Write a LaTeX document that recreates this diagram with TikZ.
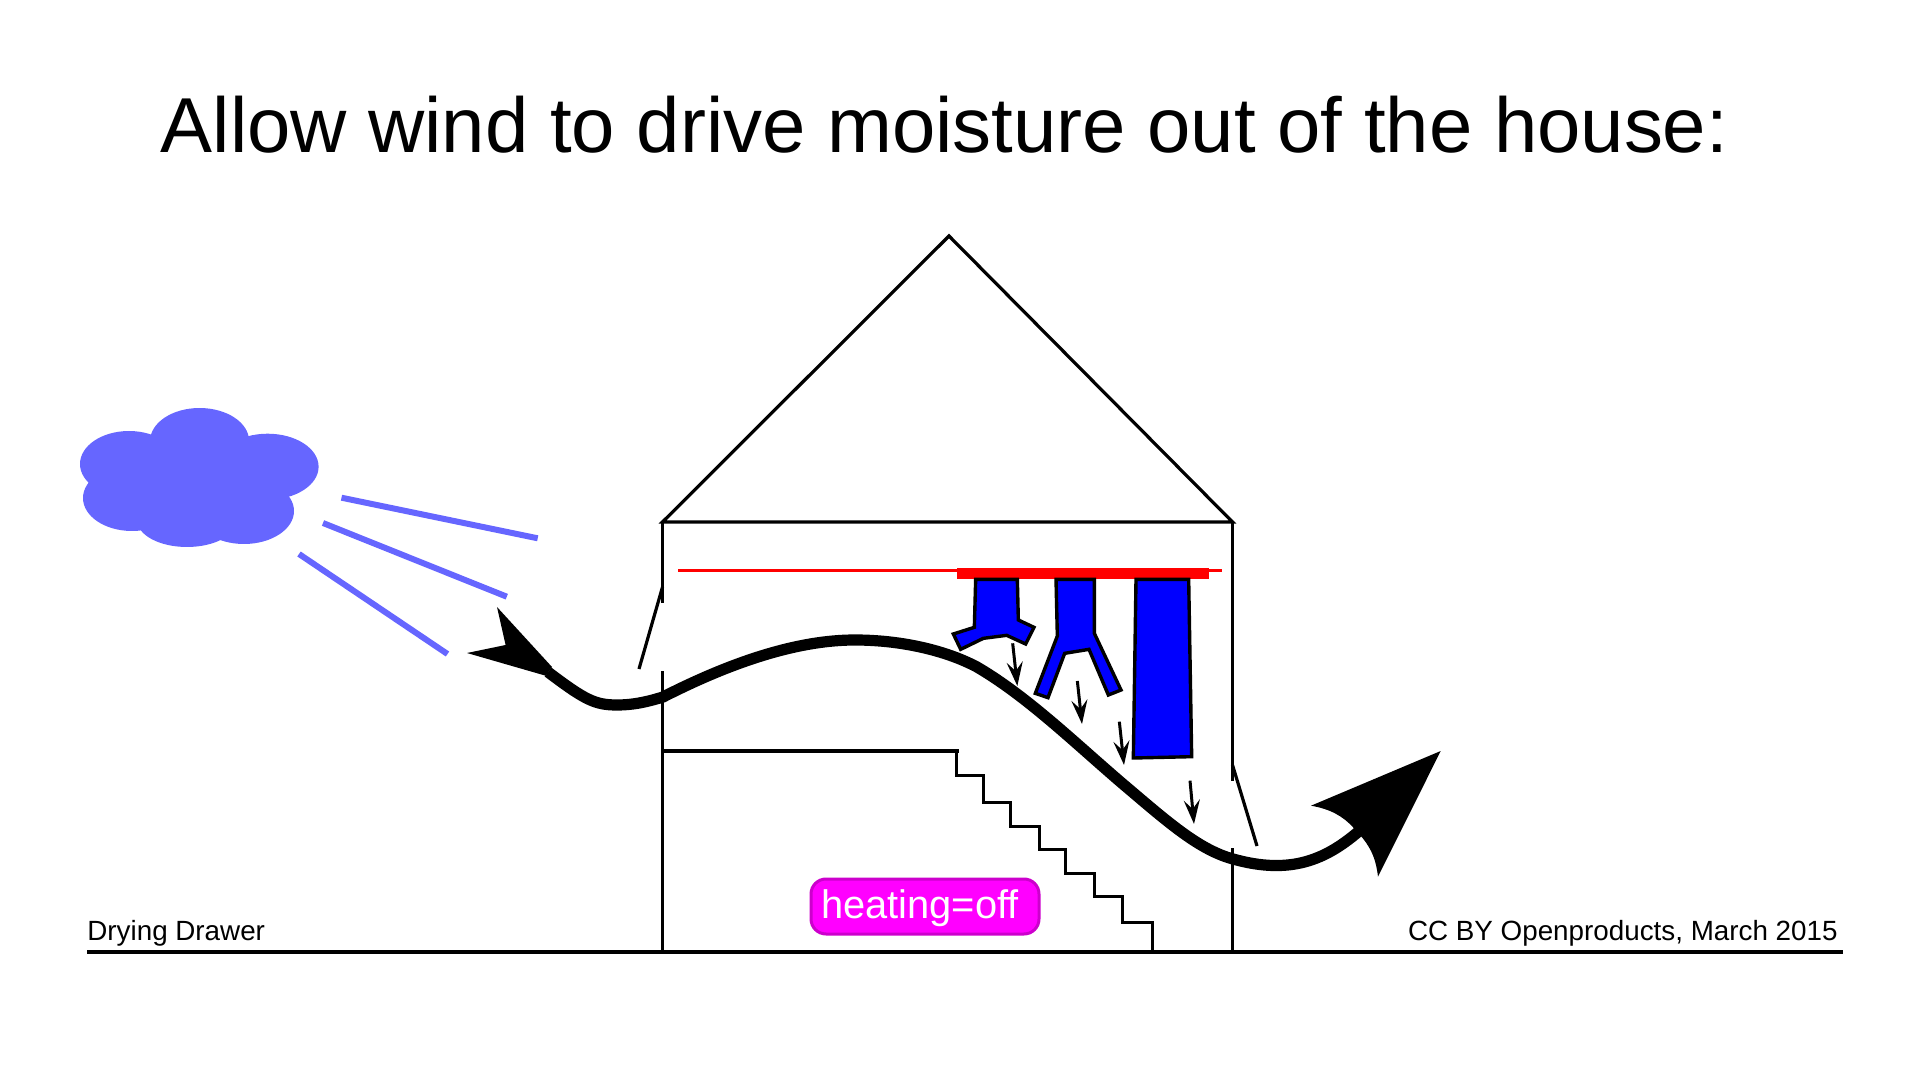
\documentclass[tikz,border=0pt]{standalone}
\usepackage{fontspec}
\setmainfont{Liberation Sans}
\usetikzlibrary{arrows.meta}
\definecolor{cloudblue}{HTML}{6666FF}
\definecolor{clothblue}{HTML}{0000FF}
\definecolor{pinkfill}{HTML}{FF00FF}
\definecolor{pinkedge}{HTML}{CC00CC}
\tikzset{
  wall/.style={draw=black,line width=1.6pt,line cap=butt},
  stairline/.style={draw=black,line width=1.5pt,line join=miter},
  wind/.style={draw=cloudblue,line width=3pt},
  cloth/.style={draw=black,fill=clothblue,line width=1.7pt,line join=miter},
  drip/.style={draw=black,line width=1.5pt,-{Stealth[length=12pt,width=8pt,inset=4.5pt]}},
  detail/.style={shift={(930,550)},x=0.16667pt,y=-0.16667pt},
  caption/.style={inner sep=0pt,anchor=base,font=\fontsize{13.9pt}{17pt}\selectfont}
}
\begin{document}
\begin{tikzpicture}[x=0.5pt,y=-0.5pt]
\useasboundingbox (0,0) rectangle (1923,1080);

% title and captions
\node[inner sep=0pt,anchor=base,font=\fontsize{38.95pt}{46pt}\selectfont] (title) at (944.5,153) {Allow wind to drive moisture out of the house:};
\node[caption,anchor=base west] (maker) at (87,940) {Drying Drawer};
\node[caption,anchor=base east] (licence) at (1838,940) {CC BY Openproducts, March 2015};

% house outline, with gaps where the vents are
\draw[wall,line join=miter] (662.5,522) -- (949,236) -- (1232.5,522) -- cycle;
\draw[wall] (662.5,522) -- (662.5,603);
\draw[wall] (662.5,671) -- (662.5,952);
\draw[wall] (1232.5,522) -- (1232.5,781);
\draw[wall] (1232.5,848) -- (1232.5,952);
\draw[wall] (87,952) -- (1843,952);
\draw[wall] (662.5,587) -- (639,669);
\draw[wall] (1232.5,765) -- (1257,846);

% upper floor and staircase
\draw[draw=black,line width=2pt] (662.5,751) -- (958.6,751);
\draw[stairline] (956.3,751) -- (956.3,775.7) -- (983,775.7) -- (983,802.3) -- (1010.8,802.3) -- (1010.8,826.7)
  -- (1039,826.7) -- (1039,849.3) -- (1065.7,849.3) -- (1065.7,873.3) -- (1094.7,873.3) -- (1094.7,896.7)
  -- (1122.9,896.7) -- (1122.9,922) -- (1152.8,922) -- (1152.8,952);

% drying line and rack
\draw[draw=red,line width=1.25pt] (678,570.7) -- (1222,570.7);
\fill[red] (956.7,568) rectangle (1209,579);

% hanging clothes
\begin{scope}[detail]
\draw[cloth] (137,88) -- (133,232) -- (70,252) -- (92,298) -- (160,265) -- (230,256) -- (287,282) -- (312,232) -- (265,210) -- (262,88) -- cycle;
\draw[cloth] (378,88) -- (382,258) -- (316,430) -- (354,443) -- (404,310) -- (477,298) -- (535,435) -- (573,420) -- (493,250) -- (493,88) -- cycle;
\draw[cloth] (618,88) -- (610,624) -- (785,620) -- (776,88) -- cycle;
\draw[drip] (248,280) -- (262,408);
\draw[drip] (442,393) -- (456,522);
\draw[drip] (568,515) -- (582,645);
\draw[drip] (780,692) -- (792,822);
\end{scope}

% cloud
\fill[cloudblue] (199.6,441) ellipse [x radius=49.5,y radius=33];
\fill[cloudblue] (129,464) ellipse [x radius=49,y radius=33];
\fill[cloudblue] (267.6,466.7) ellipse [x radius=51,y radius=33];
\fill[cloudblue] (132,498) ellipse [x radius=49,y radius=33];
\fill[cloudblue] (244,511) ellipse [x radius=50,y radius=33];
\fill[cloudblue] (187,520) ellipse [x radius=50,y radius=27];
\fill[cloudblue] (195,475) ellipse [x radius=65,y radius=42];

% wind streaks
\draw[wind] (341.5,497.7) -- (537.7,538.3);
\draw[wind] (323,523) -- (506.8,596.7);
\draw[wind] (299,554) -- (447.5,654);

% airflow through the house
\draw[draw=black,line width=5.6pt,line cap=butt] (548,672)
  .. controls (585,700) and (595,705) .. (617,705)
  .. controls (635,705) and (650,701) .. (663,697)
  .. controls (720,668) and (790,640) .. (855,640)
  .. controls (900,640) and (945,650) .. (977,667)
  .. controls (1030,698) and (1080,748) .. (1130,790)
  .. controls (1170,824) and (1200,850) .. (1233,859)
  .. controls (1290,875) and (1325,860) .. (1358,832);
\fill[black] (497,607) -- (505.6,645) -- (467,653) -- (545.6,675.7) -- (552,667) -- cycle;
\fill[black] (1311,805.7) -- (1440.7,751) -- (1378,876.7)
  .. controls (1376,860) and (1372,850) .. (1362.6,838)
  -- (1353.7,828) .. controls (1343,816) and (1330,809) .. (1311,805.7) -- cycle;

% heating label
\node[draw=pinkedge,fill=pinkfill,line width=1.5pt,rounded corners=7.5pt,minimum width=114pt,minimum height=27.5pt,inner sep=0pt,
  text=white,font=\fontsize{19.9pt}{24pt}\selectfont] (heating) at (925,906.5) {\raisebox{-6.2pt}[0pt][0pt]{heating=off}\hspace*{5pt}};
\end{tikzpicture}
\end{document}
